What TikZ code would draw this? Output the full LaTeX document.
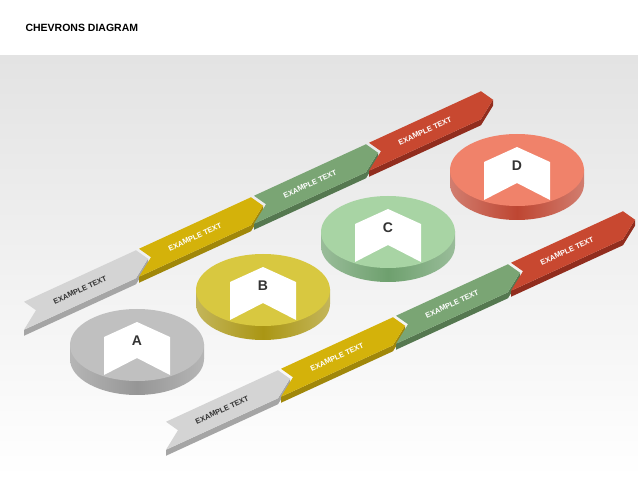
\documentclass[tikz,border=0pt]{standalone}
\usepackage{fontspec}
\setmainfont{Liberation Sans}
\begin{document}
\begin{tikzpicture}[x=1pt,y=-1pt,
  lbl/.style={font=\fontsize{7.5}{8}\selectfont\bfseries,rotate=24.7,inner sep=0pt},
  letter/.style={font=\fontsize{14}{15}\selectfont\bfseries,text=black!80,inner sep=0pt}]
\definecolor{gT}{RGB}{212,212,212}\definecolor{gS}{RGB}{165,165,165}
\definecolor{yT}{RGB}{212,178,10}\definecolor{yS}{RGB}{160,135,10}
\definecolor{cT}{RGB}{122,165,116}\definecolor{cS}{RGB}{85,120,80}
\definecolor{rT}{RGB}{200,72,48}\definecolor{rS}{RGB}{145,45,30}
\useasboundingbox (0,0) rectangle (638,478);
\shade[top color=black!11,bottom color=white] (0,55) rectangle (638,478);
\fill[white] (0,0) rectangle (638,55);
\node[anchor=west,font=\fontsize{10.5}{12}\selectfont\bfseries] (title) at (22,28) {CHEVRONS DIAGRAM};
\newcommand\seg[7]{% name, cx, cy, top, side, textcolor, text
  \def\cx{#2}\def\cy{#3}
  \fill[#5] ({\cx-56},{\cy-0.46*(-56)+14}) -- ({\cx+56},{\cy-0.46*56+14}) -- ({\cx+68},{\cy-0.46*68}) -- ({\cx+68},{\cy-0.46*68+6}) -- ({\cx+56},{\cy-0.46*56+20}) -- ({\cx-56},{\cy-0.46*(-56)+20}) -- cycle;
  \fill[#4] ({\cx-56},{\cy-0.46*(-56)-14}) -- ({\cx+56},{\cy-0.46*56-14}) -- ({\cx+68},{\cy-0.46*68}) -- ({\cx+56},{\cy-0.46*56+14}) -- ({\cx-56},{\cy-0.46*(-56)+14}) -- ({\cx-44},{\cy-0.46*(-44)}) -- cycle;
  \node[lbl,text=#6] (#1) at (\cx,\cy) {#7};}
\seg{u1}{80}{290}{gT}{gS}{black!80}{EXAMPLE TEXT}
\seg{u2}{195}{237}{yT}{yS}{white}{EXAMPLE TEXT}
\seg{u3}{310}{184}{cT}{cS}{white}{EXAMPLE TEXT}
\seg{u4}{425}{131}{rT}{rS}{white}{EXAMPLE TEXT}
\seg{l1}{222}{410}{gT}{gS}{black!80}{EXAMPLE TEXT}
\seg{l2}{337}{357}{yT}{yS}{white}{EXAMPLE TEXT}
\seg{l3}{452}{304}{cT}{cS}{white}{EXAMPLE TEXT}
\seg{l4}{567}{251}{rT}{rS}{white}{EXAMPLE TEXT}
\newcommand\disk[6]{% name, cx, cy, top, side, letter
  \def\cx{#2}\def\cy{#3}
  \shade[left color=#5!70,right color=#5!70,middle color=#5] (\cx,\cy+14) ellipse [x radius=67,y radius=36];
  \shade[left color=#5!70,right color=#5!70,middle color=#5] (\cx-67,\cy) rectangle (\cx+67,\cy+14);
  \fill[#4] (\cx,\cy) ellipse [x radius=67,y radius=36];
  \fill[white] (\cx,\cy-23) -- (\cx+33,\cy-8) -- (\cx+33,\cy+30) -- (\cx,\cy+13) -- (\cx-33,\cy+30) -- (\cx-33,\cy-8) -- cycle;
  \node[letter] (#1) at (\cx,\cy-4) {#6};}
\definecolor{dA}{RGB}{192,192,192}\definecolor{sA}{RGB}{150,150,150}
\definecolor{dB}{RGB}{216,200,64}\definecolor{sB}{RGB}{170,150,20}
\definecolor{dC}{RGB}{168,212,164}\definecolor{sC}{RGB}{110,160,110}
\definecolor{dD}{RGB}{240,130,106}\definecolor{sD}{RGB}{190,70,50}
\disk{A}{137}{345}{dA}{sA}{A}
\disk{B}{263}{290}{dB}{sB}{B}
\disk{C}{388}{232}{dC}{sC}{C}
\disk{D}{517}{170}{dD}{sD}{D}
\end{tikzpicture}
\end{document}
